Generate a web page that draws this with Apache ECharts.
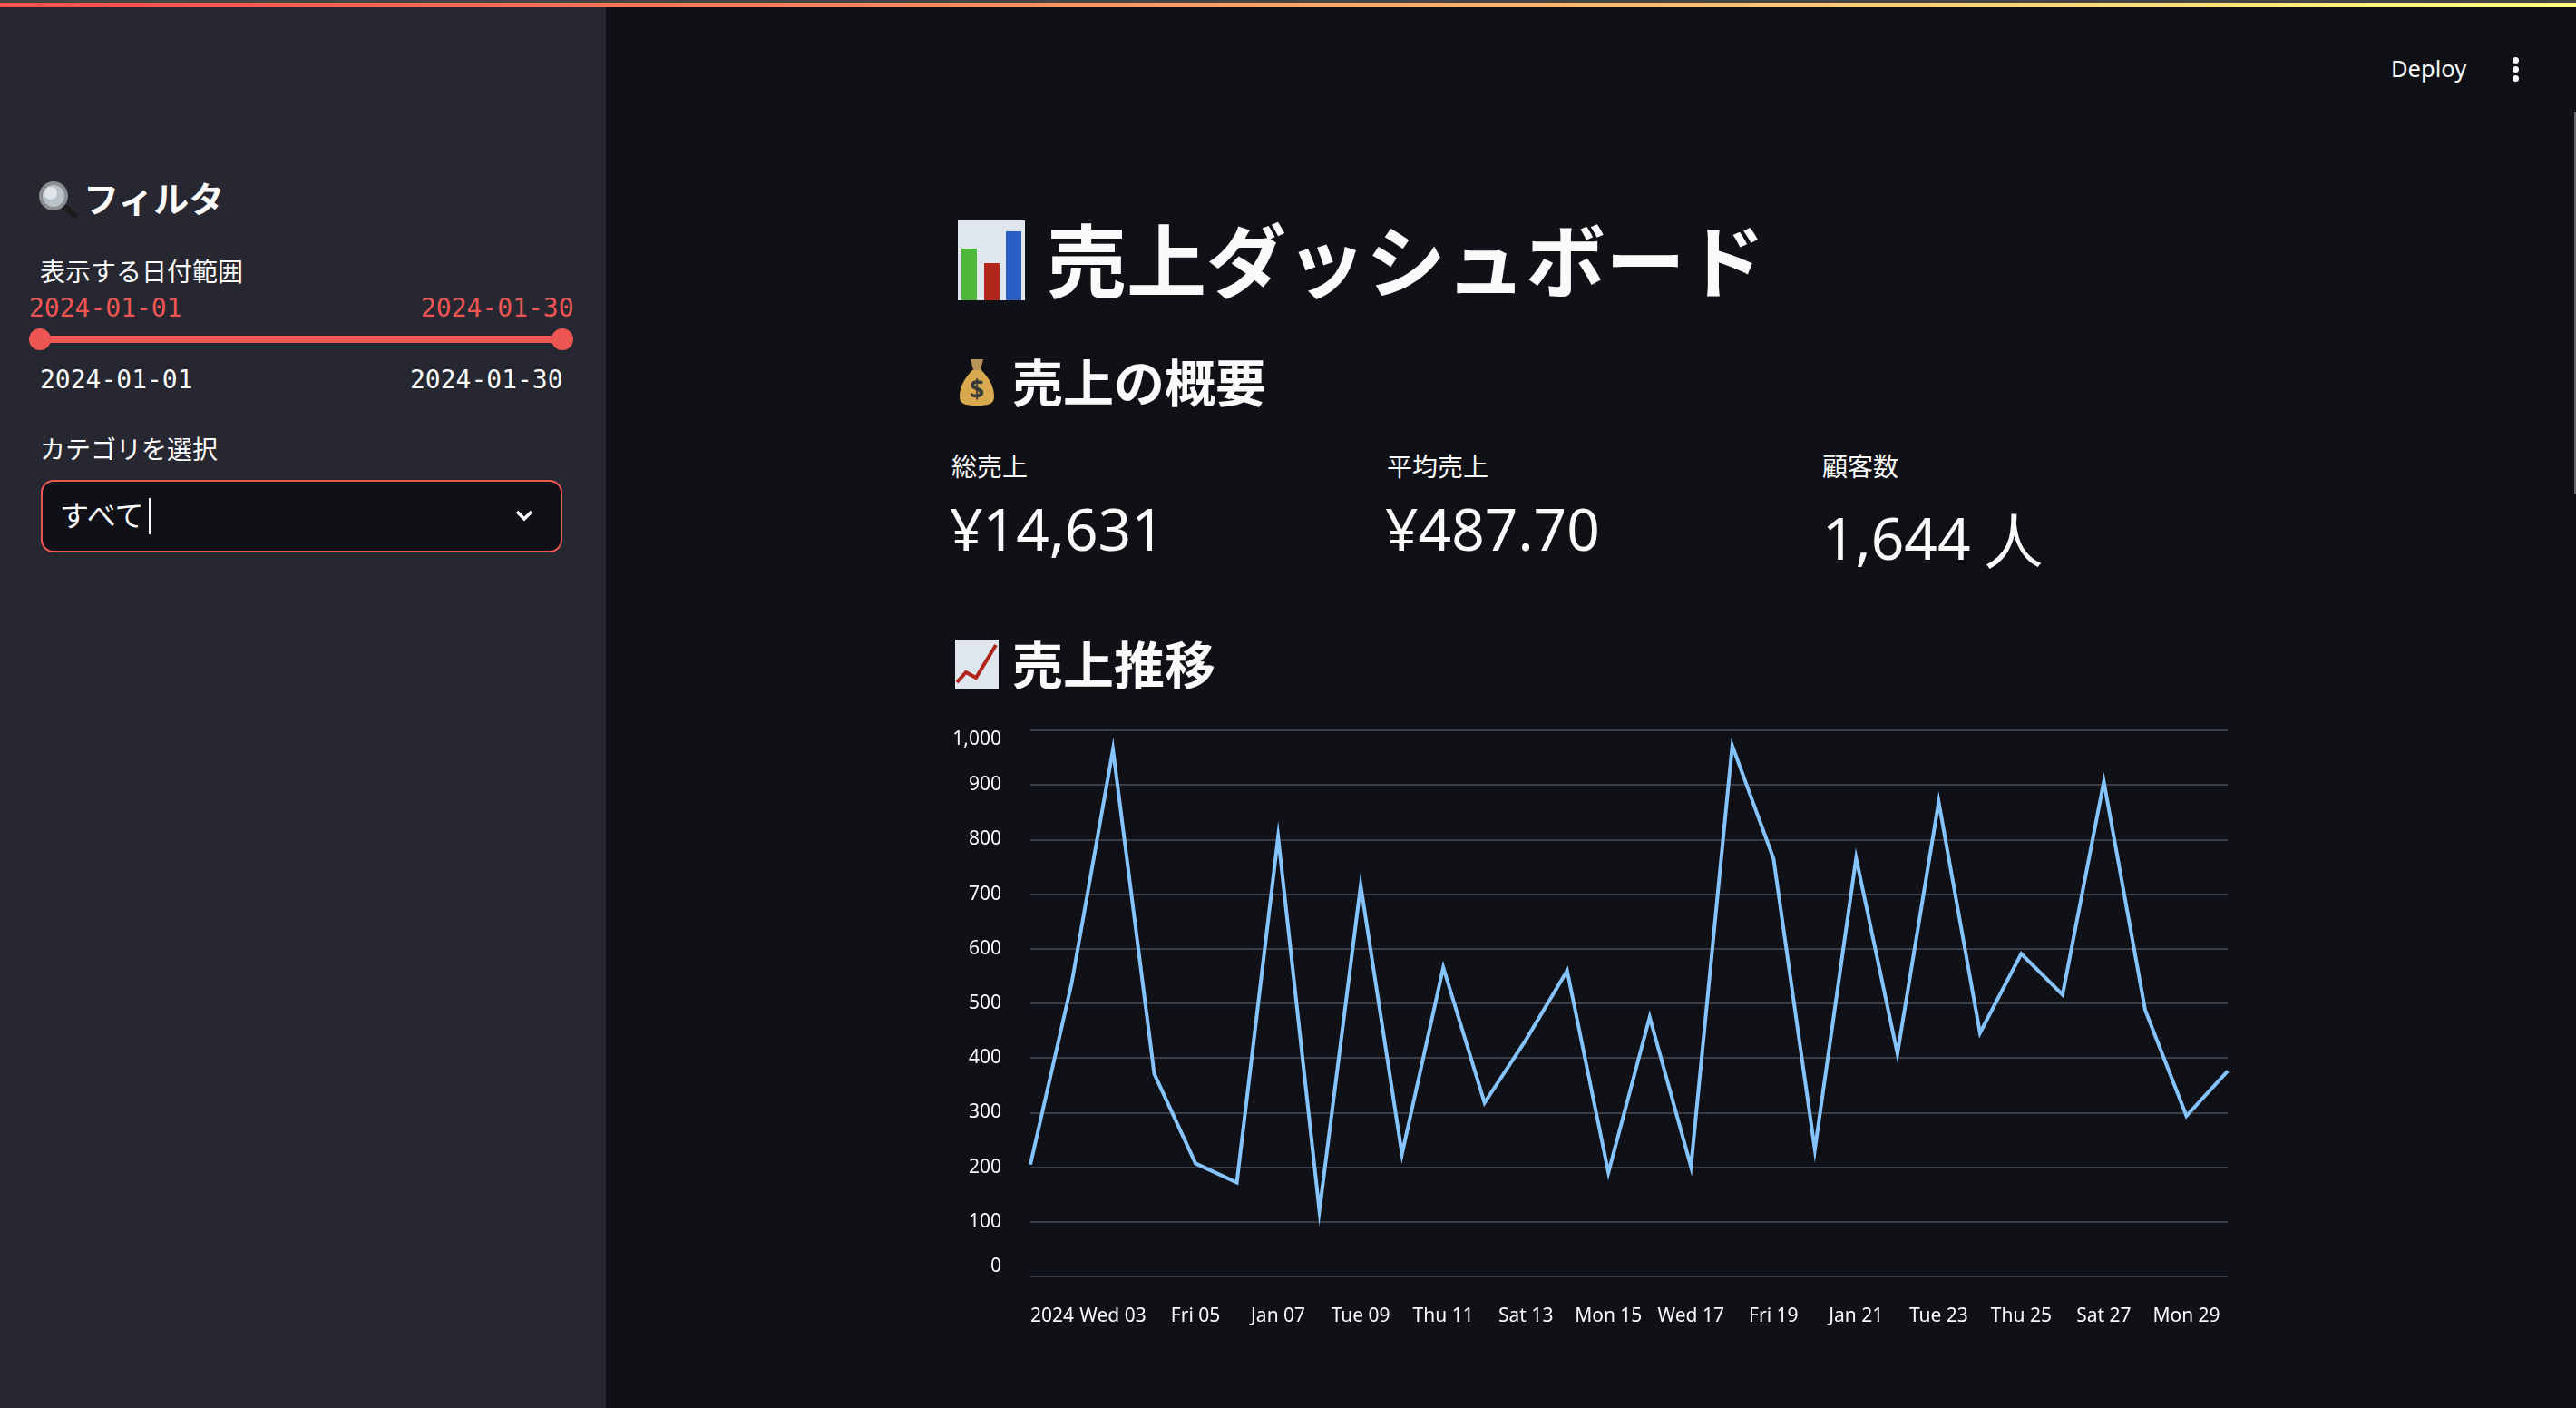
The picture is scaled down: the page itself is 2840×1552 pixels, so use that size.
<!DOCTYPE html>
<html lang="ja">
<head>
<meta charset="utf-8">
<title>売上ダッシュボード</title>
<script src="https://cdn.jsdelivr.net/npm/echarts@6/dist/echarts.min.js"></script>
<style>
html, body { margin: 0; padding: 0; width: 2840px; height: 1552px; overflow: hidden; background: #0f1117; }
body { position: relative; color: #fafafa; font-family: "Noto Sans CJK JP", "Noto Sans", sans-serif; }
.t { position: absolute; white-space: nowrap; line-height: 1; transform: translateY(-50%); }
.b { font-weight: 700; }
.mono { font-family: "DejaVu Sans Mono", monospace; font-size: 28px; }
.red { color: #ee5654; }
.num { font-family: "Noto Sans", sans-serif; font-size: 64px; }
.lab { font-size: 28px; }
svg, .box { position: absolute; }
#topstrip { position: absolute; left: 0; top: 0; width: 2840px; height: 3px; background: #444; }
#topbar { position: absolute; left: 0; top: 3px; width: 2840px; height: 5px; background: linear-gradient(90deg, #ff4b4b, #fffd80); }
#sidebar { position: absolute; left: 0; top: 8px; width: 668px; height: 1544px; background: #262730; }
#track { left: 45px; top: 370px; width: 575px; height: 8px; background: #ee5654; }
.knob { top: 362px; width: 24px; height: 24px; border-radius: 12px; background: #ee5654; }
#select { left: 45px; top: 529px; width: 571px; height: 76px; border: 2px solid #ee5654; border-radius: 14px; background: #0f1117; }
#caret { left: 164px; top: 549px; width: 2px; height: 40px; background: #fafafa; }
#scroll { left: 2838px; top: 124px; width: 2px; height: 420px; background: #666; }
.dot { left: 2770px; width: 7px; height: 7px; border-radius: 4px; background: #fafafa; }
#chart { position: absolute; left: 1040px; top: 780px; width: 1440px; height: 720px; }
</style>
</head>
<body>
<div id="topstrip"></div>
<div id="topbar"></div>
<div id="sidebar"></div>

<!-- sidebar -->
<svg style="left:42px;top:199px" width="44" height="42" viewBox="0 0 44 42">
  <line x1="25" y1="25" x2="40" y2="38" stroke="#1c1c1c" stroke-width="6" stroke-linecap="round"/>
  <circle cx="17" cy="17" r="14" fill="#b9c2c8" stroke="#8b8f92" stroke-width="4"/>
  <circle cx="14" cy="14" r="7" fill="#dfe5e8"/>
</svg>
<div class="t b" style="left:92px;top:217px;font-size:39px">フィルタ</div>
<div class="t lab" style="left:44px;top:298px">表示する日付範囲</div>
<div class="t mono red" style="left:32px;top:340px">2024-01-01</div>
<div class="t mono red" style="left:464px;top:340px">2024-01-30</div>
<div class="box" id="track"></div>
<div class="box knob" style="left:32px"></div>
<div class="box knob" style="left:608px"></div>
<div class="t mono" style="left:44px;top:419px">2024-01-01</div>
<div class="t mono" style="left:452px;top:419px">2024-01-30</div>
<div class="t lab" style="left:44px;top:494px">カテゴリを選択</div>
<div class="box" id="select"></div>
<div class="t" style="left:66px;top:566px;font-size:32px">すべて</div>
<div class="box" id="caret"></div>
<svg style="left:567px;top:560px" width="22" height="16" viewBox="0 0 22 16">
  <polyline points="3,4 11,12 19,4" fill="none" stroke="#fafafa" stroke-width="3.5"/>
</svg>

<!-- header -->
<div class="t" style="left:2636px;top:76px;font-size:25.5px;font-family:'Noto Sans'">Deploy</div>
<div class="box dot" style="top:63px"></div>
<div class="box dot" style="top:73px"></div>
<div class="box dot" style="top:83px"></div>
<div class="box" id="scroll"></div>

<!-- title -->
<svg style="left:1056px;top:243px" width="74" height="88" viewBox="0 0 74 88">
  <rect width="74" height="88" fill="#dfe6ee"/>
  <rect x="4" y="31" width="17" height="57" fill="#4fb83a"/>
  <rect x="29" y="47" width="17" height="41" fill="#b0261a"/>
  <rect x="53" y="12" width="17" height="76" fill="#2a5fc4"/>
</svg>
<div class="t b" style="left:1154px;top:283px;font-size:88px">売上ダッシュボード</div>

<svg style="left:1057px;top:395px" width="40" height="53" viewBox="0 0 40 53">
  <path d="M13 1 L27 1 L24 13 L16 13 Z" fill="#b8935a"/>
  <path d="M15 13 L25 13 C34 22 39 32 39 42 C39 50 34 52 20 52 C6 52 1 50 1 42 C1 32 6 22 15 13 Z" fill="#d9a94f"/>
  <text x="20" y="44" text-anchor="middle" font-size="28" font-weight="700" fill="#3a3a3a" font-family="Noto Sans">$</text>
</svg>
<div class="t b" style="left:1116px;top:419px;font-size:56px">売上の概要</div>

<div class="t lab" style="left:1049px;top:513px">総売上</div>
<div class="t lab" style="left:1529px;top:513px">平均売上</div>
<div class="t lab" style="left:2009px;top:513px">顧客数</div>
<div class="t num" style="left:1047px;top:583px">¥14,631</div>
<div class="t num" style="left:1527px;top:583px">¥487.70</div>
<div class="t num" style="left:2009px;top:593px">1,644 人</div>

<svg style="left:1053px;top:705px" width="48" height="55" viewBox="0 0 48 55">
  <rect width="48" height="55" fill="#dfe6ee"/>
  <polyline points="2,47 12,36 23,42 45,6" fill="none" stroke="#b0261a" stroke-width="4"/>
</svg>
<div class="t b" style="left:1116px;top:730px;font-size:56px">売上推移</div>

<div id="chart"></div>

<script>
var dayLabels = ['2024', 'Tue 02', 'Wed 03', 'Thu 04', 'Fri 05', 'Sat 06', 'Jan 07', 'Mon 08', 'Tue 09', 'Wed 10',
    'Thu 11', 'Fri 12', 'Sat 13', 'Sun 14', 'Mon 15', 'Tue 16', 'Wed 17', 'Thu 18', 'Fri 19', 'Sat 20',
    'Jan 21', 'Mon 22', 'Tue 23', 'Wed 24', 'Thu 25', 'Fri 26', 'Sat 27', 'Sun 28', 'Mon 29', 'Tue 30'];
var sales = [205, 537, 965, 371, 207, 172, 805, 120, 716, 224,
    566, 318, 433, 560, 190, 475, 201, 972, 765, 232,
    766, 408, 869, 446, 591, 516, 906, 488, 294, 376];

var option = {
    animation: false,
    backgroundColor: 'transparent',
    textStyle: { fontFamily: 'Noto Sans' },
    grid: { left: 96, right: 24, top: 25, bottom: 93 },
    xAxis: {
        type: 'category',
        boundaryGap: false,
        data: dayLabels,
        axisLine: { show: false },
        axisTick: { show: false },
        splitLine: { show: false },
        axisLabel: {
            // every second day, Tue 30 stays unlabelled
            interval: function (i) {
                return i % 2 === 0;
            },
            hideOverlap: false,
            alignMinLabel: 'left',
            margin: 34,
            color: '#fafafa',
            fontSize: 21
        }
    },
    yAxis: {
        type: 'value',
        min: 0,
        max: 1000,
        interval: 100,
        axisLine: { show: false },
        axisTick: { show: false },
        splitLine: { lineStyle: { color: '#3a3c47', width: 2 } },
        axisLabel: {
            margin: 32,
            color: '#fafafa',
            fontSize: 21,
            verticalAlignMinLabel: 'bottom',
            verticalAlignMaxLabel: 'top',
            formatter: function (val) {
                return val.toLocaleString('en-US');
            }
        }
    },
    series: [{
        type: 'line',
        data: sales,
        symbol: 'none',
        smooth: false,
        lineStyle: { color: '#85c4ff', width: 4, join: 'miter', miterLimit: 10 }
    }]
};
var myecharts = echarts.init(document.getElementById('chart'));
myecharts.setOption(option);
</script>
</body>
</html>
